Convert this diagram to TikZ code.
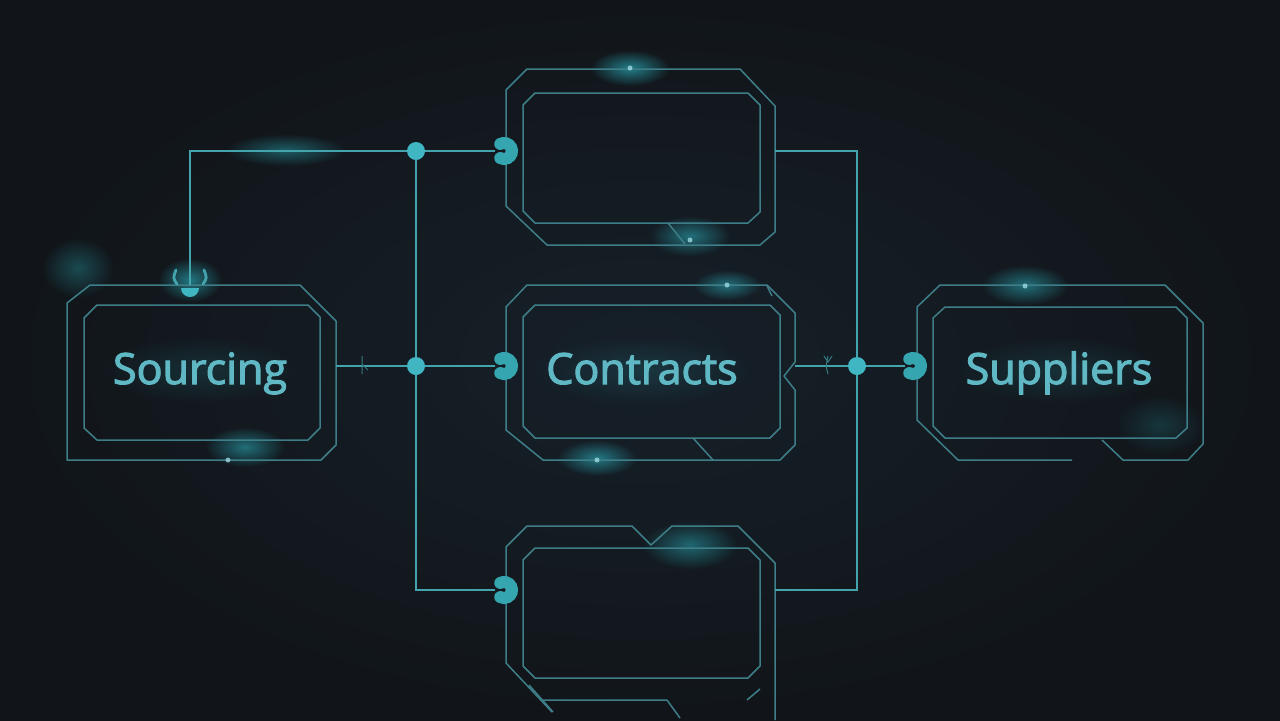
\documentclass[tikz,border=0pt]{standalone}
\usepackage{fontspec}
\newfontfamily\lab[FakeBold=2.6]{Open Sans}
\usetikzlibrary{fadings}
\tikzfading[name=glowfade, inner color=transparent!0, outer color=transparent!100]
\definecolor{bgc}{HTML}{111519}
\definecolor{bgin}{HTML}{162029}
\definecolor{boxc}{HTML}{3E7E88}
\definecolor{connc}{HTML}{44A4AD}
\definecolor{dotc}{HTML}{3FB6C2}
\definecolor{arrc}{HTML}{35A6B0}
\definecolor{textc}{HTML}{5FB8C3}
\definecolor{glowc}{HTML}{2FC4D2}
\begin{document}
\begin{tikzpicture}[x=0.5pt,y=-0.5pt,
  boxline/.style={draw=boxc, line width=0.75pt, line join=round},
  conn/.style={draw=connc, line width=1pt},
  jdot/.style={fill=dotc},
  arrowhead/.style={draw=arrc, line width=6pt, line cap=round},
  lbl/.style={font=\lab\fontsize{21.5}{25}\selectfont, text=textc, anchor=base, inner sep=0pt},
  glow/.style={fill=glowc, path fading=glowfade}]
\useasboundingbox (0,0) rectangle (1280,720);
\fill[bgc] (0,0) rectangle (1280,720);
\shade[inner color=bgin, outer color=bgc] (0,0) rectangle (1280,720);

% ---- glows ----
\fill[glow, fill opacity=0.6] (630,68) ellipse [x radius=40, y radius=18];
\fill[glow, fill opacity=0.5] (690,236) ellipse [x radius=40, y radius=20];
\fill[glow, fill opacity=0.4] (286,150) ellipse [x radius=60, y radius=16];
\fill[glow, fill opacity=0.5] (245,447) ellipse [x radius=40, y radius=20];
\fill[glow, fill opacity=0.55] (190,280) ellipse [x radius=32, y radius=22];
\fill[glow, fill opacity=0.5] (727,285) ellipse [x radius=34, y radius=15];
\fill[glow, fill opacity=0.55] (597,458) ellipse [x radius=40, y radius=18];
\fill[glow, fill opacity=0.5] (1025,285) ellipse [x radius=44, y radius=20];
\fill[glow, fill opacity=0.45] (690,545) ellipse [x radius=48, y radius=24];
\fill[glow, fill opacity=0.3] (78,268) ellipse [x radius=36, y radius=30];
\fill[glow, fill opacity=0.18] (1160,425) ellipse [x radius=45, y radius=30];
\fill[glow, fill opacity=0.14] (200,370) ellipse [x radius=100, y radius=34];
\fill[glow, fill opacity=0.14] (642,370) ellipse [x radius=110, y radius=34];
\fill[glow, fill opacity=0.14] (1059,370) ellipse [x radius=105, y radius=34];

% ---- Sourcing box ----
\draw[boxline] (90,285) -- (300,285) -- (336,321) -- (336,445) -- (321,460) -- (67,460) -- (67,303) -- cycle;
\draw[boxline] (97,305) -- (308,305) -- (320,317) -- (320,428) -- (308,440) -- (97,440) -- (84,428) -- (84,318) -- cycle;
\node[lbl] (src) at (200,384) {Sourcing};

% ---- Top box ----
\draw[boxline] (527,69) -- (740,69) -- (775,106) -- (775,232) -- (760,245) -- (547,245) -- (506,206) -- (506,90) -- cycle;
\draw[boxline] (535,93) -- (748,93) -- (760,105) -- (760,212) -- (748,223) -- (535,223) -- (523,211) -- (523,105) -- cycle;
\draw[boxline] (668,223) -- (685,244);

% ---- Contracts box ----
\draw[boxline] (527,285) -- (767,285) -- (795,313) -- (795,362) -- (784,376) -- (795,390) -- (795,445) -- (780,460) -- (543,460) -- (506,430) -- (506,307) -- cycle;
\draw[boxline] (535,305) -- (770,305) -- (780,315) -- (780,428) -- (770,438) -- (535,438) -- (523,426) -- (523,317) -- cycle;
\draw[boxline] (693,438) -- (713,460);
\draw[boxline] (767,286) -- (772,296);
\node[lbl] (con) at (642,384) {Contracts};

% ---- Bottom box ----
\draw[boxline] (552,712) -- (506,663) -- (506,547) -- (527,526) -- (632,526) -- (651,545) -- (672,526) -- (738,526) -- (775,563) -- (775,720);
\draw[boxline] (535,548) -- (748,548) -- (760,560) -- (760,666) -- (748,678) -- (535,678) -- (523,666) -- (523,560) -- cycle;
\draw[boxline] (543,700) -- (667,700) -- (680,718);
\draw[boxline] (747,700) -- (760,689);
\draw[boxline] (529,685) -- (553,712);

% ---- Suppliers box ----
\draw[boxline] (1102,440) -- (1123,460) -- (1188,460) -- (1203,444) -- (1203,323) -- (1165,285) -- (940,285) -- (917,307) -- (917,420) -- (958,460) -- (1072,460);
\draw[boxline] (945,307) -- (1176,307) -- (1187,318) -- (1187,428) -- (1176,438) -- (945,438) -- (933,426) -- (933,318) -- cycle;
\node[lbl] (sup) at (1059,384) {Suppliers};

% ---- connector points ----
\coordinate (srcTop) at (190,285);
\coordinate (srcRight) at (336,366);
\coordinate (j1) at (416,151);
\coordinate (j2) at (416,366);
\coordinate (j3) at (857,366);
\coordinate (topIn) at (495,151);
\coordinate (conIn) at (495,366);
\coordinate (botIn) at (495,590);
\coordinate (supIn) at (905,366);
\coordinate (topOut) at (775,151);
\coordinate (conOut) at (795,366);
\coordinate (botOut) at (775,590);
\coordinate (a1) at (504,151);
\coordinate (a2) at (504,366);
\coordinate (a3) at (504,590);
\coordinate (a4) at (913,366);

% ---- connectors ----
\draw[conn] (srcTop) |- (j1) -- (topIn);
\draw[conn] (srcRight) -- (j2) -- (conIn);
\draw[conn] (j1) |- (botIn);
\draw[conn] (topOut) -| (j3) |- (botOut);
\draw[conn] (conOut) -- (j3) -- (supIn);

% small ticks
\draw[connc!70!bgc, line width=0.5pt] (362,356) -- (362,374) (362,364) -- (368,370);
\draw[connc!70!bgc, line width=0.5pt] (828,356) -- (826,366) -- (828,374) (824,356) -- (828,362) -- (832,356);

% ---- junction dots ----
\fill[jdot] (j1) circle [radius=9];
\fill[jdot] (j2) circle [radius=9];
\fill[jdot] (j3) circle [radius=9];

% ---- arrowheads ----
\foreach \c in {a1,a2,a3,a4}
  \draw[arrowhead] (\c) ++(-118:8) arc [start angle=-118, end angle=118, radius=8];

% ---- Sourcing top connector cap ----
\fill[jdot] (181,288) arc [start angle=180, end angle=0, radius=9] -- cycle;
\draw[connc, line width=1.4pt, line cap=round] (177,284) .. controls (173,278) .. (176,270);
\draw[connc, line width=1.4pt, line cap=round] (203,284) .. controls (207,278) .. (204,270);

% ---- bright cores ----
\foreach \p in {(630,68),(727,285),(597,460),(1025,286),(228,460),(690,240)}
  \fill[white!60!glowc, opacity=0.7] \p circle [radius=2.5];
\end{tikzpicture}
\end{document}
